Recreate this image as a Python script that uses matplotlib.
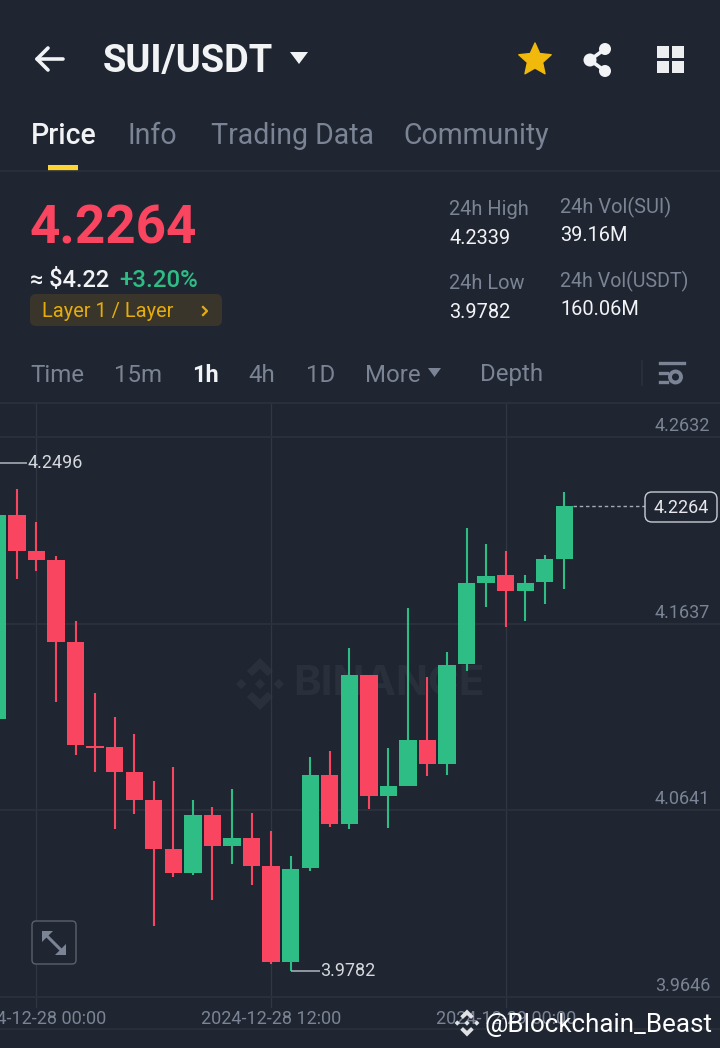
import matplotlib
matplotlib.use("Agg")
import matplotlib.pyplot as plt
import numpy as np
from matplotlib.patches import FancyBboxPatch, Polygon, Circle, Rectangle

plt.rcParams["font.family"] = ["Roboto", "DejaVu Sans"]

# candles, hours from 2024-12-28 00:00
hours = list(range(-2, 28))
opens = [4.1129, 4.2216, 4.2026, 4.1976, 4.1539, 4.0983, 4.0981, 4.0846, 4.0697, 4.0436,
         4.0308, 4.0619, 4.0452, 4.0496, 4.0342, 3.9832, 4.0333, 4.0829, 4.0566, 4.1363,
         4.0719, 4.0773, 4.1015, 4.0891, 4.1420, 4.1854, 4.1895, 4.1811, 4.1858, 4.1980]
closes = [4.2218, 4.2026, 4.1976, 4.1539, 4.0989, 4.0972, 4.0846, 4.0697, 4.0436, 4.0308,
          4.0614, 4.0452, 4.0496, 4.0342, 3.9832, 4.0331, 4.0829, 4.0566, 4.1363, 4.0719,
          4.0773, 4.1019, 4.0891, 4.1417, 4.1852, 4.1890, 4.1810, 4.1855, 4.1980, 4.2264]
highs = [4.2496, 4.2353, 4.2179, 4.1998, 4.1651, 4.1269, 4.1138, 4.1049, 4.0797, 4.0875,
         4.0696, 4.0658, 4.0757, 4.0626, 4.0532, 4.0400, 4.0928, 4.0960, 4.1506, 4.1365,
         4.0976, 4.1721, 4.1353, 4.1486, 4.2145, 4.2060, 4.2026, 4.1898, 4.2005, 4.2337]
lows = [4.1070, 4.1874, 4.1919, 4.1220, 4.0939, 4.0845, 4.0541, 4.0621, 4.0026, 4.0288,
        4.0297, 4.0164, 4.0356, 4.0244, 3.9823, 3.9782, 4.0317, 4.0552, 4.0543, 4.0649,
        4.0546, 4.0770, 4.0824, 4.0830, 4.1386, 4.1727, 4.1619, 4.1653, 4.1740, 4.1823]

y_ticks = [4.2632, 4.1637, 4.0641, 3.9646]
x_ticks = [0, 12, 24]
x_labels = ["2024-12-28 00:00", "2024-12-28 12:00", "2024-12-29 00:00"]
last_price = 4.2264
chart_high = 4.2496
chart_low = 3.9782

tabs = ["Price", "Info", "Trading Data", "Community"]
intervals = ["Time", "15m", "1h", "4h", "1D", "More", "Depth"]

BG = "#1f2631"
GREEN = "#2ebd85"
RED = "#f9455f"
GRID = "#2a313c"
VGRID = "#303743"
GRAY = "#7b8494"
WHITE = "#f2f3f5"
YELLOW = "#f0b90b"
MARK = "#2a303b"


def fs(px):
    return px * 0.72


fig = plt.figure(figsize=(7.2, 10.48), dpi=100, facecolor=BG)


def pixel_axes(z):
    # whole-figure axes in picture pixels
    a = fig.add_axes([0, 0, 1, 1], facecolor="none", zorder=z)
    a.set_xlim(0, 720)
    a.set_ylim(1048, 0)
    a.axis("off")
    return a


def logo(a, cx, cy, r, color, z=1):
    # Binance diamond mark
    rr = r * 0.2
    for dx in (0, -r * 0.72, r * 0.72):
        a.add_patch(Polygon([(cx + dx - rr, cy), (cx + dx, cy - rr), (cx + dx + rr, cy), (cx + dx, cy + rr)],
                            color=color, lw=0, zorder=z))
    for sgn in (-1, 1):
        a.add_patch(Polygon([(cx - r * 0.5, cy + sgn * r * 0.5), (cx, cy + sgn * r), (cx + r * 0.5, cy + sgn * r * 0.5),
                             (cx + r * 0.3, cy + sgn * r * 0.3), (cx, cy + sgn * r * 0.58),
                             (cx - r * 0.3, cy + sgn * r * 0.3)], color=color, lw=0, zorder=z))


# watermark sits behind the chart
wm = pixel_axes(-1)
logo(wm, 260, 684, 26, MARK)
wm.text(389, 684, "BINANCE", fontsize=fs(42), color=MARK, fontweight="bold", family="Inter", ha="center", va="center")

# chart area runs from y=404 to y=1008 in picture pixels
ax = fig.add_axes([0, (1048 - 1008) / 1048, 1, (1008 - 404) / 1048], zorder=0)
ax.patch.set_visible(False)
k = (y_ticks[0] - y_ticks[-1]) / (997 - 437)
ax.set_ylim(y_ticks[-1] - 11 * k, y_ticks[0] + 33 * k)
ax.set_xlim(-36.5 / 19.55, (720 - 36.5) / 19.55)
for s in ax.spines.values():
    s.set_visible(False)
ax.set_yticks(y_ticks)
ax.set_yticklabels([])
ax.set_xticks(x_ticks)
ax.set_xticklabels(x_labels, fontsize=fs(18), color=GRAY)
ax.tick_params(length=0)
ax.tick_params(axis="x", pad=fs(2.5))
ax.grid(True, axis="y", color=GRID, lw=1.4)
ax.grid(True, axis="x", color=VGRID, lw=0.9)
ax.set_axisbelow(True)

# y labels sit inside the plot, above their line
for v in y_ticks:
    ax.annotate(f"{v:.4f}", xy=(1, v), xycoords=ax.get_yaxis_transform(), xytext=(-10 * 0.72, 11 * 0.72),
                textcoords="offset points", ha="right", va="center", fontsize=fs(18), color=GRAY)

# candles
colors = [GREEN if c >= o else RED for o, c in zip(opens, closes)]
bottoms = [min(o, c) for o, c in zip(opens, closes)]
heights = [abs(c - o) for o, c in zip(opens, closes)]
ax.vlines(hours, lows, highs, colors=colors, lw=1.5, zorder=3)
ax.bar(hours, heights, bottom=bottoms, width=0.89, color=colors, zorder=4)

# last price / high / low markers
ax.hlines(last_price, 27.45, 31.1, colors="#a5abb5", lw=1, linestyles=(0, (2.5, 2)), zorder=3)
ax.hlines(chart_high, -1.9, -0.48, colors="#a5abb5", lw=1.2, zorder=3)
ax.hlines(chart_low, 13, 14.5, colors="#a5abb5", lw=1.2, zorder=3)
ax.text(-0.47, chart_high, f"{chart_high:.4f}", fontsize=fs(18), color="#d5d8dd", va="center", zorder=5)
ax.text(14.5, chart_low, f"{chart_low:.4f}", fontsize=fs(18), color="#d5d8dd", va="center", zorder=5)

# overlay for everything that is not chart data
ui = pixel_axes(2)


def label(x, y, s, size, color=WHITE, weight="normal", ha="left", z=6):
    ui.text(x, y + 1.5, s, fontsize=fs(size), color=color, fontweight=weight, ha=ha, va="center", zorder=z)


# header
ui.plot([37, 63], [59, 59], color=WHITE, lw=2.6, solid_capstyle="round")
ui.plot([48, 37, 48], [48, 59, 70], color=WHITE, lw=2.6, solid_capstyle="round", solid_joinstyle="round")
label(103, 59.5, "SUI/USDT", 38, weight="bold")
ui.add_patch(Polygon([(290, 52), (308, 52), (299, 64)], color=WHITE, lw=0))

# star
ang = np.deg2rad(np.arange(10) * 36 - 90)
rad = np.where(np.arange(10) % 2 == 0, 17, 8)
ui.add_patch(Polygon(np.c_[535 + rad * np.cos(ang), 60 + rad * np.sin(ang)], color=YELLOW, lw=1, joinstyle="round"))

# share
ui.plot([605, 590, 605], [49, 60, 71], color=WHITE, lw=2.6)
for cx, cy, r in [(605, 49, 6), (590, 60, 6.5), (605, 71, 6)]:
    ui.add_patch(Circle((cx, cy), r, color=WHITE, lw=0))

# grid icon
for x0, y0 in [(657, 46), (672, 46), (657, 61), (672, 61)]:
    ui.add_patch(Rectangle((x0, y0), 11.5, 11.5, color="#eceef0", lw=0))

# tabs
tab_x = [31, 127, 211, 403]
for i, (x, s) in enumerate(zip(tab_x, tabs)):
    label(x, 135, s, 28.5, color=WHITE if i == 0 else GRAY, weight="medium" if i == 0 else "normal")
ui.add_patch(Rectangle((48, 164.5), 30, 6, color="#fcd535", lw=0))
ui.plot([0, 720], [171, 171], color=GRID, lw=1.2)

# price block
label(30, 228, "4.2264", 53, color=RED, weight="bold")
label(30, 279, "≈ $4.22", 23.5, weight="medium")
label(119, 279, "+3.20%", 24, color=GREEN, weight="medium")
ui.add_patch(FancyBboxPatch((34, 298), 184, 24, boxstyle="round,pad=4,rounding_size=6", color="#39352b", lw=0))
label(42, 310, "Layer 1 / Layer", 20, color="#e5ac0d")
ui.plot([203, 207, 203], [307, 311, 315], color="#e5ac0d", lw=1.6)

label(449, 208, "24h High", 20, color=GRAY)
label(449, 237, "4.2339", 20)
label(560, 206, "24h Vol(SUI)", 20, color=GRAY)
label(560, 234, "39.16M", 20)
label(449, 282, "24h Low", 20, color=GRAY)
label(449, 311, "3.9782", 20)
label(560, 280, "24h Vol(USDT)", 19.7, color=GRAY)
label(560, 308, "160.06M", 20)

# interval row
interval_x = [30, 114, 192, 248, 306, 365, 480]
for x, s in zip(interval_x, intervals):
    label(x, 373.5, s, 23.5 if s == "1h" else 24, color=WHITE if s == "1h" else GRAY, weight="bold" if s == "1h" else "normal")
ui.add_patch(Polygon([(428, 368), (441, 368), (434.5, 377)], color=GRAY, lw=0))
ui.plot([642, 642], [361, 385], color=GRID, lw=1.2)
ui.plot([660, 684], [363, 363], color=GRAY, lw=2.4)
ui.plot([660, 667], [373, 373], color=GRAY, lw=2.4)
ui.plot([660, 667], [382, 382], color=GRAY, lw=2.4)
ui.add_patch(Circle((675.5, 377), 5.5, facecolor=BG, edgecolor=GRAY, lw=2.8))
ui.plot([0, 720], [403, 403], color=GRID, lw=1.4)
ui.plot([0, 720], [1029, 1029], color=GRID, lw=1.2)

# last price box
ui.add_patch(FancyBboxPatch((648, 495), 66, 24, boxstyle="round,pad=3,rounding_size=7", facecolor=BG,
                            edgecolor="#c9ccd2", lw=1))
label(681, 506.5, "4.2264", 18, color="#e6e8eb", ha="center")

# expand button
ui.add_patch(FancyBboxPatch((35, 924), 38, 37, boxstyle="round,pad=3,rounding_size=4", facecolor=BG,
                            edgecolor="#5a606c", lw=1))
ui.plot([44, 64], [933, 953], color=GRAY, lw=2.2)
ui.add_patch(Polygon([(42, 931), (53, 931), (42, 942)], color=GRAY, lw=0))
ui.add_patch(Polygon([(66, 955), (55, 955), (66, 944)], color=GRAY, lw=0))

# author tag on top of the x labels
logo(ui, 467, 1023, 13.5, "#dfe1e5", z=6)
label(484, 1023.5, "@Blockchain_Beast", 26, color="#ffffff")

fig.savefig("out.png", dpi=100, facecolor=BG)
